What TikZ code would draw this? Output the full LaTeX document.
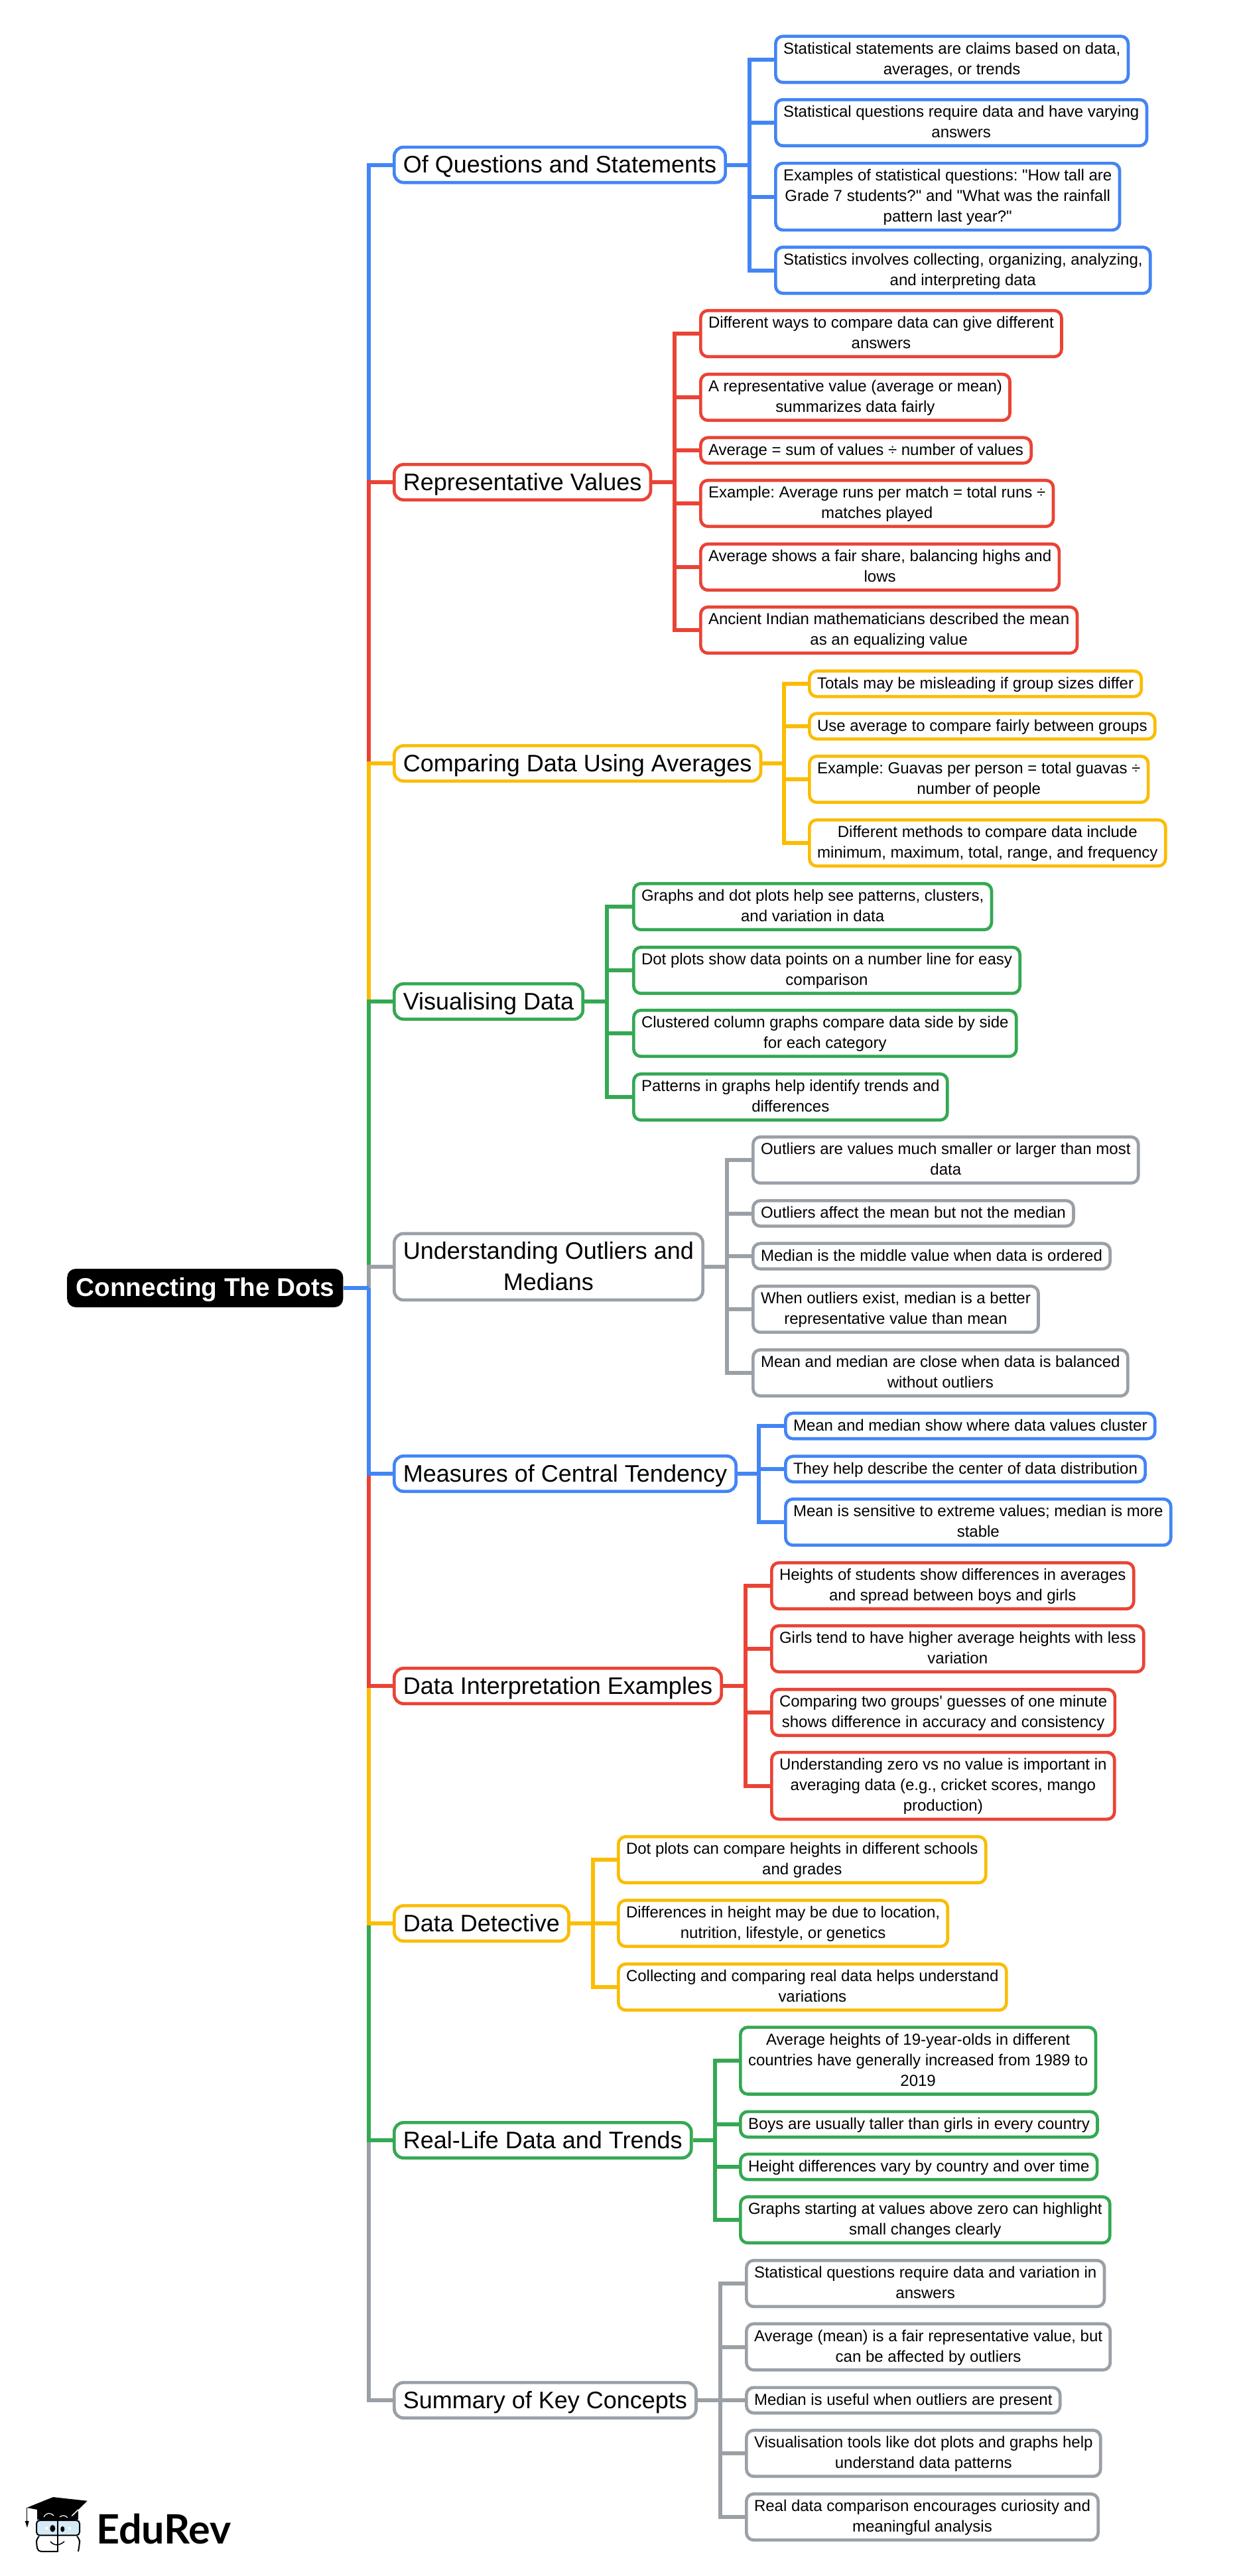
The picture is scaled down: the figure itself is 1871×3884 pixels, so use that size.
\documentclass[tikz,border=0pt]{standalone}
\usepackage{fontspec}
\usepackage{tikz}
\newfontfamily\mapfont{Liberation Sans}
\newfontfamily\logofont{Lato}
\frenchspacing
\definecolor{qblue}{HTML}{4285F4}
\definecolor{qred}{HTML}{EA4335}
\definecolor{qyellow}{HTML}{FBBC04}
\definecolor{qgreen}{HTML}{34A853}
\definecolor{qgrey}{HTML}{9AA0A6}
\definecolor{qglass}{HTML}{D5E9F7}

\begin{document}
\begin{tikzpicture}[x=1pt, y=-1pt,
    box/.style = {anchor=west, align=center, line width=4.7pt, rounded corners=11pt, fill=white},
    root/.style = {anchor=west, align=center, fill=black, text=white, rounded corners=13pt, inner xsep=13.5pt, inner ysep=5.6pt,
                  text height=35.4pt, text depth=11.4pt, font=\mapfont\fontsize{38.7}{46.8}\selectfont\bfseries},
    topic/.style = {box, rounded corners=14pt, inner xsep=13.5pt, inner ysep=3.25pt, text height=35.4pt, text depth=11.4pt,
                  font=\mapfont\fontsize{36}{46.8}\selectfont},
    topictwo/.style = {topic, text height=82.2pt},
    leaf/.style = {box, inner xsep=11.65pt, inner ysep=4.55pt, text height=21.84pt, text depth=7.44pt,
                  font=\mapfont\fontsize{24}{31.2}\selectfont},
    leaftwo/.style = {leaf, text height=53.04pt},
    leafthree/.style = {leaf, text height=84.24pt},
    link/.style = {line width=6pt}]
    \useasboundingbox (0,0) rectangle (1871,3884);

	\node [root] (root) at (101, 1942) {Connecting The Dots};
	\coordinate (jr) at (555.5, 1942);

	\node [topic, draw=qblue] (t1) at (592, 248.5) {Of Questions and Statements};
	\node [topic, draw=qred] (t2) at (592, 727) {Representative Values};
	\node [topic, draw=qyellow] (t3) at (592, 1151) {Comparing Data Using Averages};
	\node [topic, draw=qgreen] (t4) at (592, 1510) {Visualising Data};
	\node [topictwo, draw=qgrey] (t5) at (592, 1910) {Understanding Outliers and\\Medians};
	\node [topic, draw=qblue] (t6) at (592, 2222) {Measures of Central Tendency};
	\node [topic, draw=qred] (t7) at (592, 2542) {Data Interpretation Examples};
	\node [topic, draw=qyellow] (t8) at (592, 2900) {Data Detective};
	\node [topic, draw=qgreen] (t9) at (592, 3227) {Real-Life Data and Trends};
	\node [topic, draw=qgrey] (t10) at (592, 3619) {Summary of Key Concepts};

	\coordinate (j1) at (1130, 248.5);
	\node [leaftwo, draw=qblue] (a1) at (1167, 89.5) {Statistical statements are claims based on data,\\averages, or trends};
	\node [leaftwo, draw=qblue] (a2) at (1167, 185) {Statistical questions require data and have varying\\answers};
	\node [leafthree, draw=qblue] (a3) at (1167, 296.5) {Examples of statistical questions: "How tall are\\Grade 7 students?" and "What was the rainfall\\pattern last year?"};
	\node [leaftwo, draw=qblue] (a4) at (1167, 407.5) {Statistics involves collecting, organizing, analyzing,\\and interpreting data};

	\coordinate (j2) at (1017, 727);
	\node [leaftwo, draw=qred] (b1) at (1054, 503) {Different ways to compare data can give different\\answers};
	\node [leaftwo, draw=qred] (b2) at (1054, 599) {A representative value (average or mean)\\summarizes data fairly};
	\node [leaf, draw=qred] (b3) at (1054, 679) {Average = sum of values ÷ number of values};
	\node [leaftwo, draw=qred] (b4) at (1054, 759) {Example: Average runs per match = total runs ÷\\matches played};
	\node [leaftwo, draw=qred] (b5) at (1054, 855) {Average shows a fair share, balancing highs and\\lows};
	\node [leaftwo, draw=qred] (b6) at (1054, 950) {Ancient Indian mathematicians described the mean\\as an equalizing value};

	\coordinate (j3) at (1182, 1151);
	\node [leaf, draw=qyellow] (c1) at (1218, 1031) {Totals may be misleading if group sizes differ};
	\node [leaf, draw=qyellow] (c2) at (1218, 1095) {Use average to compare fairly between groups};
	\node [leaftwo, draw=qyellow] (c3) at (1218, 1175) {Example: Guavas per person = total guavas ÷\\number of people};
	\node [leaftwo, draw=qyellow] (c4) at (1218, 1271) {Different methods to compare data include\\minimum, maximum, total, range, and frequency};

	\coordinate (j4) at (915, 1510);
	\node [leaftwo, draw=qgreen] (d1) at (953, 1367) {Graphs and dot plots help see patterns, clusters,\\and variation in data};
	\node [leaftwo, draw=qgreen] (d2) at (953, 1463) {Dot plots show data points on a number line for easy\\comparison};
	\node [leaftwo, draw=qgreen] (d3) at (953, 1558) {Clustered column graphs compare data side by side\\for each category};
	\node [leaftwo, draw=qgreen] (d4) at (953, 1654) {Patterns in graphs help identify trends and\\differences};

	\coordinate (j5) at (1096, 1910);
	\node [leaftwo, draw=qgrey] (e1) at (1133, 1749) {Outliers are values much smaller or larger than most\\data};
	\node [leaf, draw=qgrey] (e2) at (1133, 1829.5) {Outliers affect the mean but not the median};
	\node [leaf, draw=qgrey] (e3) at (1133, 1894) {Median is the middle value when data is ordered};
	\node [leaftwo, draw=qgrey] (e4) at (1133, 1974) {When outliers exist, median is a better\\representative value than mean};
	\node [leaftwo, draw=qgrey] (e5) at (1133, 2070) {Mean and median are close when data is balanced\\without outliers};

	\coordinate (j6) at (1144, 2222);
	\node [leaf, draw=qblue] (f1) at (1182, 2150) {Mean and median show where data values cluster};
	\node [leaf, draw=qblue] (f2) at (1182, 2215) {They help describe the center of data distribution};
	\node [leaftwo, draw=qblue] (f3) at (1182, 2295) {Mean is sensitive to extreme values; median is more\\stable};

	\coordinate (j7) at (1124, 2542);
	\node [leaftwo, draw=qred] (g1) at (1161, 2391) {Heights of students show differences in averages\\and spread between boys and girls};
	\node [leaftwo, draw=qred] (g2) at (1161, 2486) {Girls tend to have higher average heights with less\\variation};
	\node [leaftwo, draw=qred] (g3) at (1161, 2582) {Comparing two groups' guesses of one minute\\shows difference in accuracy and consistency};
	\node [leafthree, draw=qred] (g4) at (1161, 2692.5) {Understanding zero vs no value is important in\\averaging data (e.g., cricket scores, mango\\production)};

	\coordinate (j8) at (894, 2900);
	\node [leaftwo, draw=qyellow] (h1) at (930, 2804) {Dot plots can compare heights in different schools\\and grades};
	\node [leaftwo, draw=qyellow] (h2) at (930, 2900) {Differences in height may be due to location,\\nutrition, lifestyle, or genetics};
	\node [leaftwo, draw=qyellow] (h3) at (930, 2996) {Collecting and comparing real data helps understand\\variations};

	\coordinate (j9) at (1078, 3227);
	\node [leafthree, draw=qgreen] (k1) at (1114, 3107) {Average heights of 19-year-olds in different\\countries have generally increased from 1989 to\\2019};
	\node [leaf, draw=qgreen] (k2) at (1114, 3203) {Boys are usually taller than girls in every country};
	\node [leaf, draw=qgreen] (k3) at (1114, 3267) {Height differences vary by country and over time};
	\node [leaftwo, draw=qgreen] (k4) at (1114, 3347) {Graphs starting at values above zero can highlight\\small changes clearly};

	\coordinate (j10) at (1086, 3619);
	\node [leaftwo, draw=qgrey] (m1) at (1123, 3443) {Statistical questions require data and variation in\\answers};
	\node [leaftwo, draw=qgrey] (m2) at (1123, 3538.5) {Average (mean) is a fair representative value, but\\can be affected by outliers};
	\node [leaf, draw=qgrey] (m3) at (1123, 3619) {Median is useful when outliers are present};
	\node [leaftwo, draw=qgrey] (m4) at (1123, 3699) {Visualisation tools like dot plots and graphs help\\understand data patterns};
	\node [leaftwo, draw=qgrey] (m5) at (1123, 3795) {Real data comparison encourages curiosity and\\meaningful analysis};

    % spine, far branches first
    \draw[link, qblue] (jr) |- (t1);
    \draw[link, qred] (jr) |- (t2);
    \draw[link, qyellow] (jr) |- (t3);
    \draw[link, qgreen] (jr) |- (t4);
    \draw[link, qgrey] (jr) |- (t5);
    \draw[link, qgrey] (jr) |- (t10);
    \draw[link, qgreen] (jr) |- (t9);
    \draw[link, qyellow] (jr) |- (t8);
    \draw[link, qred] (jr) |- (t7);
    \draw[link, qblue] (jr) |- (t6);
    \draw[link, qblue] (root) -- (jr);

    \draw[link, qblue] (t1) -- (j1);
    \draw[link, qblue] (j1) |- (a1);
    \draw[link, qblue] (j1) |- (a2);
    \draw[link, qblue] (j1) |- (a3);
    \draw[link, qblue] (j1) |- (a4);

    \draw[link, qred] (t2) -- (j2);
    \draw[link, qred] (j2) |- (b1);
    \draw[link, qred] (j2) |- (b2);
    \draw[link, qred] (j2) |- (b3);
    \draw[link, qred] (j2) |- (b4);
    \draw[link, qred] (j2) |- (b5);
    \draw[link, qred] (j2) |- (b6);

    \draw[link, qyellow] (t3) -- (j3);
    \draw[link, qyellow] (j3) |- (c1);
    \draw[link, qyellow] (j3) |- (c2);
    \draw[link, qyellow] (j3) |- (c3);
    \draw[link, qyellow] (j3) |- (c4);

    \draw[link, qgreen] (t4) -- (j4);
    \draw[link, qgreen] (j4) |- (d1);
    \draw[link, qgreen] (j4) |- (d2);
    \draw[link, qgreen] (j4) |- (d3);
    \draw[link, qgreen] (j4) |- (d4);

    \draw[link, qgrey] (t5) -- (j5);
    \draw[link, qgrey] (j5) |- (e1);
    \draw[link, qgrey] (j5) |- (e2);
    \draw[link, qgrey] (j5) |- (e3);
    \draw[link, qgrey] (j5) |- (e4);
    \draw[link, qgrey] (j5) |- (e5);

    \draw[link, qblue] (t6) -- (j6);
    \draw[link, qblue] (j6) |- (f1);
    \draw[link, qblue] (j6) |- (f2);
    \draw[link, qblue] (j6) |- (f3);

    \draw[link, qred] (t7) -- (j7);
    \draw[link, qred] (j7) |- (g1);
    \draw[link, qred] (j7) |- (g2);
    \draw[link, qred] (j7) |- (g3);
    \draw[link, qred] (j7) |- (g4);

    \draw[link, qyellow] (t8) -- (j8);
    \draw[link, qyellow] (j8) |- (h1);
    \draw[link, qyellow] (j8) |- (h2);
    \draw[link, qyellow] (j8) |- (h3);

    \draw[link, qgreen] (t9) -- (j9);
    \draw[link, qgreen] (j9) |- (k1);
    \draw[link, qgreen] (j9) |- (k2);
    \draw[link, qgreen] (j9) |- (k3);
    \draw[link, qgreen] (j9) |- (k4);

    \draw[link, qgrey] (t10) -- (j10);
    \draw[link, qgrey] (j10) |- (m1);
    \draw[link, qgrey] (j10) |- (m2);
    \draw[link, qgrey] (j10) |- (m3);
    \draw[link, qgrey] (j10) |- (m4);
    \draw[link, qgrey] (j10) |- (m5);

    % logo
    \node [anchor=base west, inner sep=0pt, font=\logofont\fontsize{61}{61}\selectfont\bfseries] (edurev) at (145, 3835) {EduRev};
    \fill (55.7,3783) -- (118.3,3783) -- (118.3,3799) -- (55.7,3799) -- cycle;
    \fill (40.3,3781) -- (80,3765) -- (131.7,3770.7) -- (108.3,3793.3) -- cycle;
    \draw[white, line width=1.5pt] (108.3,3793.3) -- (118,3784);
    \draw[line width=1.5pt] (40.3,3781) -- (40.3,3801);
    \fill (37.7,3801) -- (43.7,3801) -- (41,3811) -- cycle;
    \draw[white, line width=1.2pt] (66,3795) .. controls (70,3788) and (76,3788) .. (81,3793);
    \draw[white, line width=1.2pt] (90,3795) .. controls (94,3792) and (98,3792) .. (102,3796);
    \draw[fill=qglass, line width=2pt, rounded corners=5pt] (55,3800) rectangle (120,3822.7);
    \draw[line width=2pt, rounded corners=5pt] (86.7,3847) -- (57,3847) -- (55,3835) -- (55,3828) -- (59,3824);
    \draw[line width=2pt, rounded corners=5pt] (116,3824) -- (120,3828) -- (120,3835) -- (118,3847);
    \draw[line width=2pt] (86.7,3797) -- (86.7,3848);
    \fill (79.3,3812.3) ellipse (4 and 5.3);
    \fill (94.3,3813.3) ellipse (3 and 4.3);
    \fill[white] (68,3810) rectangle (72,3814);
    \fill[white] (103,3810) rectangle (107,3814);
    \draw[line width=1.5pt] (76,3832) .. controls (82,3839) and (90,3838) .. (97,3832);
\end{tikzpicture}
\end{document}
